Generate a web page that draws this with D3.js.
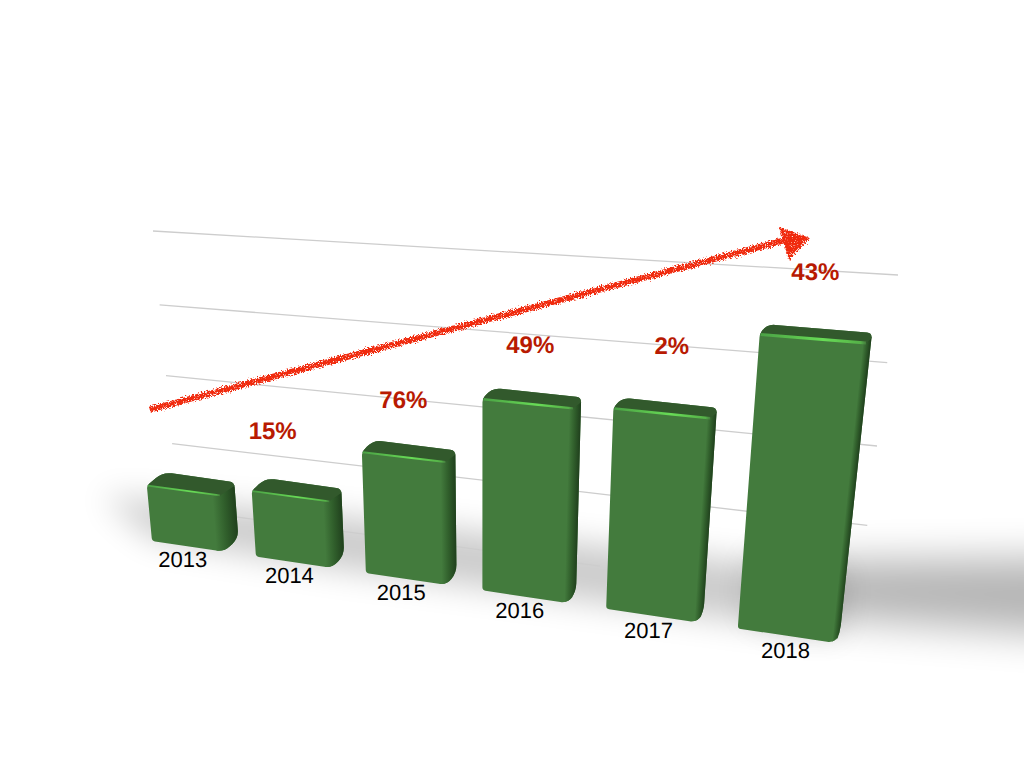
<!DOCTYPE html>
<html><head><meta charset="utf-8">
<style>html,body{margin:0;padding:0;background:#fff}svg{display:block}text{font-family:"Liberation Sans",Arial,sans-serif;text-rendering:geometricPrecision}</style>
<script src="https://cdn.jsdelivr.net/npm/d3@7/dist/d3.min.js"></script></head>
<body><script>
// ---- data ----
const years = ["2013","2014","2015","2016","2017","2018"];
const values = [100,115,204,309,315,439];
const growth = ["","15%","76%","49%","2%","43%"];
const gridLevels = [0,1,2,3,4];
const trendPosition = [0.017,0.898];
const trendValue = [234,567];
// ---- scene (camera) and layout ----
const gridSpan = [0.66,1,1,1,1];
const labelShift = [0,-0.022,0.002,0.003,0.009,-0.003];
const labelGap = [0,106,90,87,98,88];
const yearDx = [-6,-5,-5,-5,-2,1];
const W=1024,H=767;
const frontQuad=[[152,541],[835,643],[866,343],[128,284]];
const backQuad =[[168,527],[840,633],[872,333],[144,272]];
const wallQuad =[[178,509],[858,601],[898,275],[153,231]];
function homography(q){
  const [[x0,y0],[x1,y1],[x2,y2],[x3,y3]]=q;
  const dx1=x1-x2,dx2=x3-x2,sx=x0-x1+x2-x3,dy1=y1-y2,dy2=y3-y2,sy=y0-y1+y2-y3;
  const det=dx1*dy2-dx2*dy1;
  const g=(sx*dy2-dx2*sy)/det,h=(dx1*sy-sx*dy1)/det;
  const a=x1-x0+g*x1,b=x3-x0+h*x3,c=x0,d=y1-y0+g*y1,e=y3-y0+h*y3,f=y0;
  return (s,t)=>{const w=g*s+h*t+1;return [(a*s+b*t+c)/w,(d*s+e*t+f)/w];};
}
const F=homography(frontQuad),B=homography(backQuad),Wl=homography(wallQuad);
const xBand=d3.scaleBand().domain(years).range([0,1]).paddingInner(0.30).paddingOuter(0);
const vS=d3.scaleLinear().domain([0,439]).range([0,1]);
const gS=d3.scaleLinear().domain([0,4]).range([0,1]);

const svg=d3.select("body").append("svg").attr("width",W).attr("height",H);
const defs=svg.append("defs");
const blur=(id,s)=>defs.append("filter").attr("id",id).attr("x","-50%").attr("y","-100%").attr("width","200%").attr("height","300%")
  .append("feGaussianBlur").attr("stdDeviation",s);
blur("b18",20);blur("b10",16);
defs.append("filter").attr("id","bh").attr("filterUnits","userSpaceOnUse").attr("x",0).attr("y",0).attr("width",W).attr("height",H)
  .append("feGaussianBlur").attr("stdDeviation",0.6);
const rough=defs.append("filter").attr("id","rough").attr("filterUnits","userSpaceOnUse").attr("x",0).attr("y",150).attr("width",W).attr("height",320);
rough.append("feTurbulence").attr("type","fractalNoise").attr("baseFrequency",0.7).attr("numOctaves",2).attr("seed",3).attr("result","n");
rough.append("feDisplacementMap").attr("in","SourceGraphic").attr("in2","n").attr("scale",6).attr("result","d");
rough.append("feTurbulence").attr("type","fractalNoise").attr("baseFrequency",1.1).attr("numOctaves",1).attr("seed",8);
rough.append("feColorMatrix").attr("type","matrix").attr("values","0 0 0 0 0  0 0 0 0 0  0 0 0 0 0  5 0 0 0 -1.1").attr("result","holes");
rough.append("feComposite").attr("in","d").attr("in2","holes").attr("operator","in");

const poly=p=>"M"+p.map(d=>d[0].toFixed(2)+","+d[1].toFixed(2)).join("L")+"Z";
function rounded(pts,rad){
  let s="";
  pts.forEach((p,i)=>{
    const a=pts[(i-1+pts.length)%pts.length],c=pts[(i+1)%pts.length],r=rad[i];
    const la=Math.hypot(a[0]-p[0],a[1]-p[1]),lc=Math.hypot(c[0]-p[0],c[1]-p[1]);
    const p1=[p[0]+(a[0]-p[0])*r/la,p[1]+(a[1]-p[1])*r/la],p2=[p[0]+(c[0]-p[0])*r/lc,p[1]+(c[1]-p[1])*r/lc];
    s+=(i?"L":"M")+p1[0].toFixed(2)+","+p1[1].toFixed(2)+"Q"+p[0].toFixed(2)+","+p[1].toFixed(2)+" "+p2[0].toFixed(2)+","+p2[1].toFixed(2);
  });
  return s+"Z";
}
// shadow
const sh=svg.append("g");
sh.append("path").attr("d",poly([F(-0.08,vS(70)),F(0.25,vS(90)),F(1.0,vS(110)),F(1.0,vS(15)),F(0.3,vS(0)),F(0.0,vS(5))]))
  .attr("fill","#000").attr("opacity",0.2).attr("filter","url(#b10)");
sh.append("path").attr("d",poly([F(0.9,vS(110)),F(1.35,vS(190)),F(1.35,vS(70)),F(0.9,vS(30))]))
  .attr("fill","#000").attr("opacity",0.29).attr("filter","url(#b18)");
// grid
svg.append("g").selectAll("line").data(gridLevels).join("line")
  .attr("x1",d=>Wl(0,gS(d))[0]).attr("y1",d=>Wl(0,gS(d))[1])
  .attr("x2",d=>Wl(gridSpan[d],gS(d))[0]).attr("y2",d=>Wl(gridSpan[d],gS(d))[1])
  .attr("stroke","#cdcdcd").attr("stroke-width",1.3);
// bars
const bars=svg.append("g");
years.forEach((y,i)=>{
  const u0=xBand(y),u1=u0+xBand.bandwidth(),t=vS(values[i]);
  const fBL=F(u0,0),fBR=F(u1,0),fTR=F(u1,t),fTL=F(u0,t),bBR=B(u1,0),bTR=B(u1,t),bTL=B(u0,t);
  const g=bars.append("g");
  const sil=[fBL,fBR,bBR,bTR,bTL,fTL];
  const radii=[3,8,8,5,9,3];
  defs.append("clipPath").attr("id","c"+i).append("path").attr("d",rounded(sil,radii));
  const inner=g.append("g").attr("clip-path",`url(#c${i})`);
  inner.append("rect").attr("x",0).attr("y",0).attr("width",W).attr("height",H).attr("fill","#437b3d");
  // side: gradient runs across the slanted edge
  const ex=fBR[0]-fTR[0],ey=fBR[1]-fTR[1],el=Math.hypot(ex,ey),nx=ey/el,ny=-ex/el;
  const mx=(fTR[0]+fBR[0])/2,my=(fTR[1]+fBR[1])/2,bmx=(bTR[0]+bBR[0])/2,bmy=(bTR[1]+bBR[1])/2;
  const sideW=(bmx-mx)*nx+(bmy-my)*ny,inset=Math.max(3,sideW*0.5);
  const gr=defs.append("linearGradient").attr("id","s"+i).attr("gradientUnits","userSpaceOnUse")
    .attr("x1",mx-nx*inset).attr("y1",my-ny*inset).attr("x2",mx+nx*sideW).attr("y2",my+ny*sideW);
  [[0,"#437b3d"],[0.5,"#305e2b"],[1,"#20401d"]].forEach(s=>gr.append("stop").attr("offset",s[0]).attr("stop-color",s[1]));
  inner.append("path").attr("d",poly([[fTR[0]-inset,fTR[1]-1],[fBR[0]-inset,fBR[1]],[bBR[0]+6,bBR[1]+9],[bTR[0]+6,bTR[1]]])).attr("fill",`url(#s${i})`);
  inner.append("path").attr("d",poly([fTL,fTR,[bTR[0]+6,bTR[1]],[bTL[0],bTL[1]-8],[fTL[0]-6,fTL[1]]])).attr("fill","#32592c");
  const hg=defs.append("linearGradient").attr("id","h"+i).attr("gradientUnits","userSpaceOnUse")
    .attr("x1",fTL[0]).attr("y1",fTL[1]).attr("x2",fTR[0]).attr("y2",fTR[1]);
  [[0,"#4aa044"],[0.6,"#68dc56"],[0.95,"#55b048"],[1,"#437b3d"]].forEach(s=>hg.append("stop").attr("offset",s[0]).attr("stop-color",s[1]));
  g.append("path").attr("d",`M${fTL[0]+1},${fTL[1]}L${fTR[0]},${fTR[1]}`).attr("fill","none")
    .attr("stroke",`url(#h${i})`).attr("stroke-width",1.3+t*1.6).attr("filter","url(#bh)");
});
// year labels
svg.append("g").selectAll("text").data(years).join("text")
  .attr("x",(d,i)=>F(xBand(d)+xBand.bandwidth()/2,vS(-24))[0]+yearDx[i]).attr("y",d=>F(xBand(d)+xBand.bandwidth()/2,vS(-24))[1])
  .attr("text-anchor","middle").attr("dominant-baseline","central").attr("font-size",22).attr("fill","#000").text(d=>d);
// trend arrow
const a0=F(trendPosition[0],vS(trendValue[0])),a1=F(trendPosition[1],vS(trendValue[1]));
const ar=svg.append("g").attr("filter","url(#rough)");
ar.append("path").attr("d",`M${a0[0]},${a0[1]}L${a1[0]},${a1[1]}`).attr("stroke","#f02a10").attr("stroke-width",6).attr("fill","none");
ar.append("path").attr("d",poly([[a1[0]+25,a1[1]-2],[a1[0]-6,a1[1]-13],[a1[0]+4,a1[1]+20]])).attr("fill","#f02a10");
// growth labels
svg.append("g").selectAll("text").data(growth).join("text")
  .attr("x",(d,i)=>F(xBand(years[i])+xBand.bandwidth()/2+labelShift[i],vS(values[i]+labelGap[i]))[0])
  .attr("y",(d,i)=>F(xBand(years[i])+xBand.bandwidth()/2+labelShift[i],vS(values[i]+labelGap[i]))[1])
  .attr("text-anchor","middle").attr("dominant-baseline","central").attr("font-size",24).attr("font-weight","bold").attr("fill","#b81a02").text(d=>d);
</script></body></html>
